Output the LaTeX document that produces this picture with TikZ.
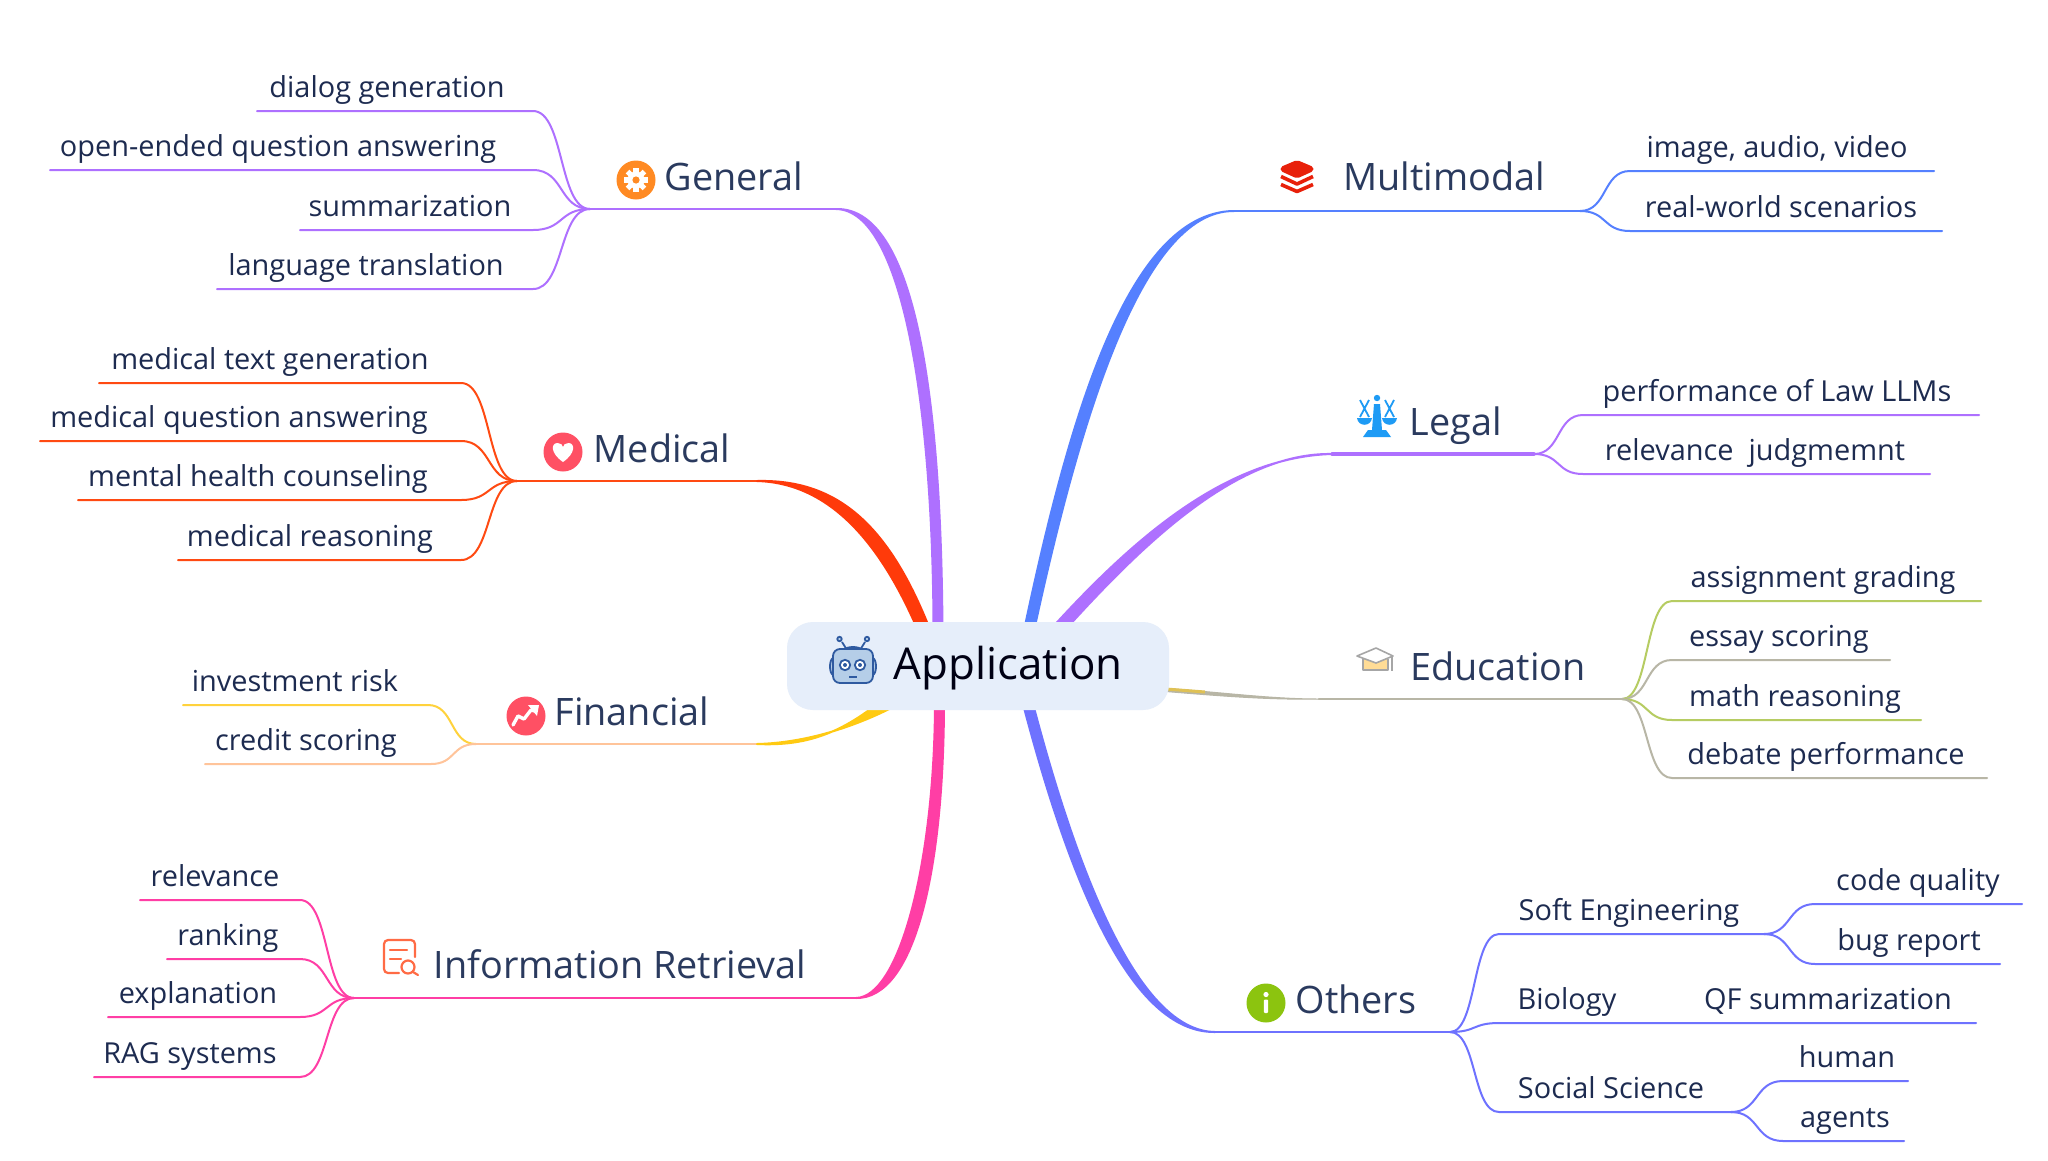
\documentclass[tikz,border=0pt]{standalone}
\usepackage{fontspec}
\setmainfont{Open Sans}
\usetikzlibrary{calc}
\definecolor{ink}{HTML}{1D2B50}
\definecolor{topicink}{HTML}{2A3A5E}
\definecolor{cgen}{HTML}{AE70FF}
\definecolor{cmed}{HTML}{FF4A12}
\definecolor{cmedb}{HTML}{FF3A0A}
\definecolor{cyel}{HTML}{FFD23C}
\definecolor{cyelb}{HTML}{FFCA12}
\definecolor{cpch}{HTML}{FFC49A}
\definecolor{cpink}{HTML}{FF3EA5}
\definecolor{cblue}{HTML}{5580FF}
\definecolor{cind}{HTML}{6E72FF}
\definecolor{cgrn}{HTML}{B6CC62}
\definecolor{cgry}{HTML}{B8B6A6}
\definecolor{appbg}{HTML}{E6EEFA}
\definecolor{gearc}{HTML}{FF8A23}
\definecolor{rosec}{HTML}{FF5064}
\definecolor{irc}{HTML}{FF6B45}
\definecolor{layc}{HTML}{E8200A}
\definecolor{legc}{HTML}{1E9BF5}
\definecolor{capc}{HTML}{FFDC96}
\definecolor{infoc}{HTML}{8CC40F}
\definecolor{robl}{HTML}{2F5AA0}
\definecolor{robf}{HTML}{B5CEE8}
\newcommand{\leaf}[6]{%
  \coordinate (#1a) at (#4,#3);
  \coordinate (#1b) at (#5,#3);
  \node[leaflab,anchor=base] (#1) at (#2,#3-13.4) {#6};}
\newcommand{\conn}[3]{%
  \draw[thinline,#1] (#2) .. controls ($(#2)!.55!(#3a|-#2)$) and ($(#3a)!.55!(#3a-|#2)$) .. (#3a) -- (#3b);}
\newcommand{\branch}[8]{%
  \filldraw[#1,line width=2pt,line join=round] (#2) .. controls #3 and #4 .. ([xshift=-#6 pt]#5) -- ([xshift=#6 pt]#5) .. controls #7 and #8 .. (#2) -- cycle;}
\tikzset{
  leaflab/.style={font=\fontsize{28.9}{34}\selectfont,text=ink,inner sep=0pt},
  topiclab/.style={font=\fontsize{37.8}{46}\selectfont,text=topicink,inner sep=0pt,anchor=base},
  thinline/.style={line width=2pt,line cap=round},
  topicline/.style={line width=2.6pt,line cap=round},
  badge/.style={circle,minimum size=39pt,inner sep=0pt},
}
\begin{document}
\begin{tikzpicture}[x=1pt,y=-1pt]
\useasboundingbox (0,0) rectangle (2048,1160);
\fill[white] (0,0) rectangle (2048,1160);

% hubs and branch ends
\coordinate (genhub) at (590,209);  \coordinate (genbr) at (836,209);  \coordinate (genend) at (938,640);
\coordinate (medhub) at (517,481);  \coordinate (medbr) at (757,481);  \coordinate (medend) at (928,640);
\coordinate (finhub) at (476,744);  \coordinate (finbr) at (757,744);  \coordinate (finend) at (888,704);
\coordinate (irhub)  at (354,998);  \coordinate (irbr)  at (856,998);  \coordinate (irend)  at (939.5,700);
\coordinate (mulhub) at (1580,211); \coordinate (mulbr) at (1234,211); \coordinate (mulend) at (1027,640);
\coordinate (leghub) at (1534,454); \coordinate (legbr) at (1332,454); \coordinate (legend) at (1053,635);
\coordinate (eduhub) at (1622,699); \coordinate (edubr) at (1319,699); \coordinate (eduend) at (1160,688);
\coordinate (othhub) at (1450,1032);\coordinate (othbr) at (1215,1032);\coordinate (othend) at (1027,700);
\coordinate (sofhub) at (1764,934); \coordinate (sochub) at (1731,1112);

% left leaves: inner end first
\leaf{g1}{387}{111}{533}{257}{dialog generation}
\leaf{g2}{278}{170}{533}{50}{open-ended question answering}
\leaf{g3}{410}{230}{533}{300}{summarization}
\leaf{g4}{366}{289}{533}{217}{language translation}
\leaf{m1}{270}{383}{461}{99}{medical text generation}
\leaf{m2}{239}{441}{461}{40}{medical question answering}
\leaf{m3}{258}{500}{461}{78}{mental health counseling}
\leaf{m4}{310}{560}{461}{178}{medical reasoning}
\leaf{f1}{295}{705}{428}{183}{investment risk}
\leaf{f2}{306}{764}{431}{205}{credit scoring}
\leaf{i1}{215}{900}{300}{140}{relevance}
\leaf{i2}{228}{959}{300}{167}{ranking}
\leaf{i3}{198}{1017}{300}{108}{explanation}
\leaf{i4}{190}{1077}{300}{94}{RAG systems}
% right leaves
\leaf{u1}{1777}{171}{1630}{1934}{image, audio, video}
\leaf{u2}{1781}{231}{1630}{1942}{real-world scenarios}
\leaf{l1}{1777}{415}{1583}{1979}{performance of Law LLMs}
\leaf{l2}{1755}{474}{1583}{1930}{relevance\ \ judgmemnt}
\leaf{e1}{1823}{601}{1672}{1981}{assignment grading}
\leaf{e2}{1779}{660}{1672}{1890}{essay scoring}
\leaf{e3}{1795}{720}{1672}{1921}{math reasoning}
\leaf{e4}{1826}{778}{1672}{1987}{debate performance}
\leaf{s1}{1629}{934}{1499}{1770}{Soft Engineering}
\leaf{s2}{1567}{1023}{1499}{1976}{Biology}
\node[leaflab,anchor=base] (qf) at (1828,1009.6) {QF summarization};
\leaf{s3}{1611}{1112}{1499}{1737}{Social Science}
\leaf{c1}{1918}{904}{1815}{2022}{code quality}
\leaf{c2}{1909}{964}{1815}{2000}{bug report}
\leaf{h1}{1847}{1081}{1783}{1908}{human}
\leaf{h2}{1845}{1141}{1783}{1904}{agents}

% connectors
\foreach \n in {g1,g2,g3,g4}{\conn{cgen}{genhub}{\n}}
\foreach \n in {m1,m2,m3,m4}{\conn{cmed}{medhub}{\n}}
\conn{cyel}{finhub}{f1}
\conn{cpch}{finhub}{f2}
\foreach \n in {i1,i2,i3,i4}{\conn{cpink}{irhub}{\n}}
\foreach \n in {u1,u2}{\conn{cblue}{mulhub}{\n}}
\foreach \n in {l1,l2}{\conn{cgen}{leghub}{\n}}
\conn{cgrn}{eduhub}{e1}
\conn{cgry}{eduhub}{e2}
\conn{cgrn}{eduhub}{e3}
\conn{cgry}{eduhub}{e4}
\foreach \n in {s1,s2,s3}{\conn{cind}{othhub}{\n}}
\foreach \n in {c1,c2}{\conn{cind}{sofhub}{\n}}
\foreach \n in {h1,h2}{\conn{cind}{sochub}{\n}}

% topic lines
\draw[topicline,cgen] (genhub) -- (genbr);
\draw[topicline,cmed] (medhub) -- (medbr);
\draw[topicline,cpch] (finhub) -- (finbr);
\draw[topicline,cpink] (irhub) -- (irbr);
\draw[topicline,cblue] (mulhub) -- (mulbr);
\draw[topicline,cgen,line width=3.4pt] (leghub) -- (legbr);
\draw[topicline,cgry] (eduhub) -- (edubr);
\draw[topicline,cind] (othhub) -- (othbr);

% tapered branches
\branch{cgen}{genbr}{(905,210)}{(934,420)}{genend}{4.5}{(942,420)}{(920,207)}
\branch{cmedb}{medbr}{(825,483)}{(879,535)}{medend}{6}{(891,525)}{(838,479)}
\branch{cyelb}{finbr}{(800,746)}{(835,737)}{finend}{11}{(850,730)}{(800,743)}
\branch{cpink}{irbr}{(900,997)}{(935,860)}{irend}{4.5}{(944,870)}{(915,999)}
\branch{cblue}{mulbr}{(1125,212)}{(1066,430)}{mulend}{5}{(1077,430)}{(1140,210)}
\branch{cgen}{legbr}{(1225,457)}{(1131,540)}{legend}{7.5}{(1139,548)}{(1235,452)}
\branch{cind}{othbr}{(1130,1033)}{(1069,880)}{othend}{5}{(1079,880)}{(1140,1031)}
\filldraw[cgry,line width=1pt] (edubr) .. controls (1270,699) and (1220,692) .. (eduend) -- (1160,691) .. controls (1220,696) and (1270,700) .. (edubr) -- cycle;
\draw[cyelb!55!cgry,line width=3pt] (1166,689) -- (1205,692);

% centre
\node[fill=appbg,rounded corners=26pt,minimum width=382pt,minimum height=88pt,inner sep=0pt] (app) at (978,666) {};
\node[font=\fontsize{43.9}{52}\selectfont,text=black!92!blue,inner sep=0pt,anchor=base] (apptext) at (1008,679) {Application};

% topic labels
\node[topiclab] (gen) at (734,190) {General};
\node[topiclab] (med) at (662,462) {Medical};
\node[topiclab] (fin) at (632,725) {Financial};
\node[topiclab] (ir) at (620,978) {Information Retrieval};
\node[topiclab] (mul) at (1444,190) {Multimodal};
\node[topiclab] (leg) at (1456,435) {Legal};
\node[topiclab] (edu) at (1498,680) {Education};
\node[topiclab] (oth) at (1356,1013) {Others};

% gear
\node[badge,fill=gearc] (igen) at (636,180) {};
\begin{scope}[shift={(636,180)}]
  \fill[white] (0,0) circle[radius=8.5pt];
  \foreach \a in {0,45,...,315}{\fill[white,rotate=\a] (-2.6,-12) rectangle (2.6,-6);}
  \fill[gearc] (0,0) circle[radius=3.6pt];
\end{scope}
% heart
\node[badge,fill=rosec] (imed) at (563,452) {};
\begin{scope}[shift={(563,452)}]
  \fill[white] (0,10) .. controls (-13,1) and (-12,-9) .. (-5.5,-9) .. controls (-2.5,-9) and (0,-7) .. (0,-5) .. controls (0,-7) and (2.5,-9) .. (5.5,-9) .. controls (12,-9) and (13,1) .. (0,10) -- cycle;
\end{scope}
% trend
\node[badge,fill=rosec] (ifin) at (526,716) {};
\begin{scope}[shift={(526,716)}]
  \draw[white,line width=3.4pt,line cap=round,line join=round] (-13,9) -- (-8,0) -- (-2,3) -- (5,-6) -- (9,-5);
  \fill[white] (2,-11) -- (13,-11) -- (11,0) -- cycle;
\end{scope}
% retrieval
\begin{scope}[irc,line width=2.2pt,line cap=round]
  \draw[rounded corners=4pt] (415,957) -- (415,940) -- (384,940) -- (384,973) -- (399,973);
  \draw (390,950) -- (407,950);
  \draw (390,959) -- (401,959);
  \draw (408,967) circle[radius=6.5pt];
  \draw (413,972) -- (418,975);
\end{scope}
% layers
\fill[layc,rounded corners=2pt] (1297,160) -- (1313.5,167) -- (1313.5,171) -- (1297,178.5) -- (1280.5,171) -- (1280.5,167) -- cycle;
\draw[layc,line width=3.6pt,line join=round] (1281,176.5) -- (1297,184) -- (1313,176.5);
\draw[layc,line width=3.6pt,line join=round] (1281,184.5) -- (1297,191.5) -- (1313,184.5);
% scales
\begin{scope}[legc]
  \fill (1377,398) circle[radius=3.2pt];
  \fill (1374,404) -- (1380,404) -- (1382,430) -- (1372,430) -- cycle;
  \fill (1368,430) -- (1386,430) -- (1391,437) -- (1363,437) -- cycle;
  \draw[line width=1.8pt] (1360,400) -- (1369,417) (1369,400) -- (1360,417) (1385,400) -- (1394,417) (1394,400) -- (1385,417);
  \fill (1357,418) -- (1372,418) .. controls (1371,427) and (1358,427) .. (1357,418) -- cycle;
  \fill (1382,418) -- (1397,418) .. controls (1396,427) and (1383,427) .. (1382,418) -- cycle;
\end{scope}
% cap
\fill[capc] (1363,658) rectangle (1388,670);
\draw[black!35,line width=1.6pt,line join=round] (1363,659) -- (1363,670) -- (1388,670) -- (1388,659);
\filldraw[fill=white,draw=black!35,line width=1.6pt,line join=round] (1357,656) -- (1376,648) -- (1393,656) -- (1376,663) -- cycle;
\draw[black!35,line width=1.6pt] (1392,656) -- (1392,671);
% info
\node[badge,fill=infoc] (ioth) at (1266,1003) {};
\fill[white] (1266,994.5) circle[radius=2.6pt];
\fill[white,rounded corners=1pt] (1263.8,999.5) rectangle (1268.2,1013);
% robot
\begin{scope}[line width=1.8pt,draw=robl]
  \draw (842,642) -- (847,650) (865,642) -- (860,650);
  \filldraw[fill=robf] (839.5,639) circle[radius=2.2pt] (867,639) circle[radius=2.2pt];
  \filldraw[fill=robf] (873,658) .. controls (877,660) and (877,673) .. (873,675) -- cycle;
  \filldraw[fill=robf] (833,675) .. controls (829,673) and (829,660) .. (833,658) -- cycle;
  \filldraw[fill=robf] (843,650) .. controls (848,646) and (858,646) .. (863,650) -- cycle;
  \filldraw[fill=robf,rounded corners=7pt] (833,649) rectangle (873,683);
  \filldraw[fill=white] (845,665) circle[radius=5.2pt] (860,665) circle[radius=5.2pt];
  \fill[robl] (845,665) circle[radius=2pt] (860,665) circle[radius=2pt];
  \draw (849,677) -- (857,677);
\end{scope}
\end{tikzpicture}
\end{document}
